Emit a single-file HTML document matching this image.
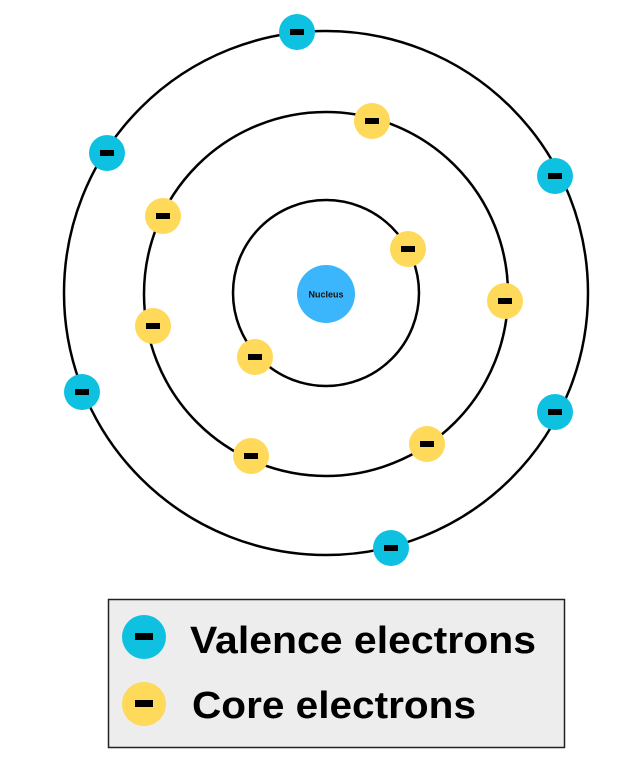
<!DOCTYPE html>
<html><head><style>
body{margin:0;background:#fff;width:640px;height:770px;overflow:hidden}
</style></head><body>
<svg width="640" height="770" xmlns="http://www.w3.org/2000/svg" style="position:absolute;left:0;top:0">
<g fill="none" stroke="#000" stroke-width="2.5">
<circle cx="326" cy="293" r="93"/>
<circle cx="326" cy="294" r="182"/>
<circle cx="326" cy="293" r="262"/>
</g>
<circle cx="326" cy="294" r="29" fill="#3bb5fc"/>
<text x="326" y="297.5" font-family="Liberation Sans, sans-serif" font-weight="bold" font-size="9" text-anchor="middle" fill="#111">Nucleus</text>
<g fill="#0ec1e0">
<circle cx="297" cy="32" r="18"/><circle cx="107" cy="153" r="18"/><circle cx="555" cy="176" r="18"/>
<circle cx="82" cy="392" r="18"/><circle cx="555" cy="412" r="18"/><circle cx="391" cy="548" r="18"/>
</g>
<g fill="#fed95a">
<circle cx="372" cy="121" r="18"/><circle cx="163" cy="216" r="18"/><circle cx="408" cy="249" r="18"/>
<circle cx="505" cy="301" r="18"/><circle cx="153" cy="326" r="18"/><circle cx="255" cy="357" r="18"/>
<circle cx="427" cy="444" r="18"/><circle cx="251" cy="456" r="18"/>
</g>
<g fill="#000">
<rect x="290" y="29" width="14" height="6"/><rect x="100" y="150" width="14" height="6"/><rect x="548" y="173" width="14" height="6"/>
<rect x="75" y="389" width="14" height="6"/><rect x="548" y="409" width="14" height="6"/><rect x="384" y="545" width="14" height="6"/>
<rect x="365" y="118" width="14" height="6"/><rect x="156" y="213" width="14" height="6"/><rect x="401" y="246" width="14" height="6"/>
<rect x="498" y="298" width="14" height="6"/><rect x="146" y="323" width="14" height="6"/><rect x="248" y="354" width="14" height="6"/>
<rect x="420" y="441" width="14" height="6"/><rect x="244" y="453" width="14" height="6"/>
</g>
<rect x="108.5" y="599.5" width="456" height="148" fill="#ededed" stroke="#222" stroke-width="1.5"/>
<circle cx="144" cy="637" r="22" fill="#0ec1e0"/>
<rect x="135" y="633" width="18" height="7" fill="#000"/>
<circle cx="144" cy="704" r="22" fill="#fed95a"/>
<rect x="135" y="700" width="18" height="7" fill="#000"/>
<text x="190" y="653" font-family="Liberation Sans, sans-serif" font-weight="bold" font-size="38" fill="#000" textLength="346" lengthAdjust="spacingAndGlyphs">Valence electrons</text>
<text x="192" y="718" font-family="Liberation Sans, sans-serif" font-weight="bold" font-size="38" fill="#000" textLength="284" lengthAdjust="spacingAndGlyphs">Core electrons</text>
</svg>
</body></html>
